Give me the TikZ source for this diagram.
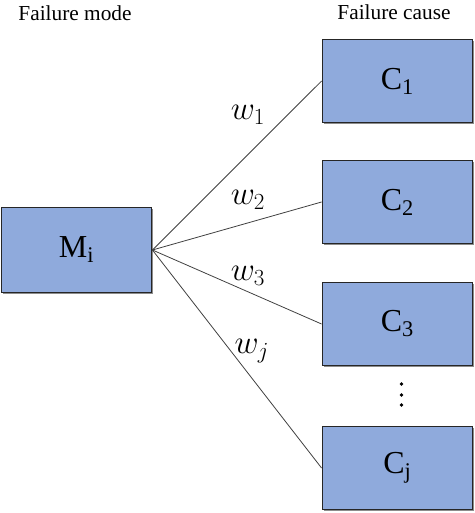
\documentclass[tikz,border=0pt]{standalone}
\usepackage{fontspec}
\setmainfont{Liberation Serif}
\newfontfamily\timesfont{Liberation Serif}
\usetikzlibrary{shadows}
\definecolor{boxblue}{RGB}{143,170,220}
\tikzset{
  box/.style={draw=black!85,line width=0.9pt,fill=boxblue,rectangle,
    minimum width=113pt,minimum height=62pt,inner sep=0pt,
    font=\timesfont\fontsize{24}{28}\selectfont,
    drop shadow={shadow xshift=1.2pt,shadow yshift=-1.2pt,fill=black!45,opacity=1}},
  head/.style={font=\timesfont\fontsize{16}{19}\selectfont},
  wlab/.style={font=\fontsize{25}{29}\selectfont},
  dot/.style={circle,fill=black,inner sep=0pt,minimum size=2.8pt}
}
\begin{document}
\begin{tikzpicture}[x=0.75pt,y=-0.75pt]
  \useasboundingbox (0,0) rectangle (474,513);
  % headers
  \node[head] (hm) at (75,13) {Failure mode};
  \node[head] (hc) at (394,12) {Failure cause};
  % boxes
  \node[box,minimum height=64pt] (M) at (76.5,250) {M\textsubscript{i}};
  \node[box] (C1) at (397.5,81) {C\textsubscript{1}};
  \node[box] (C2) at (397.5,202) {C\textsubscript{2}};
  \node[box] (C3) at (397.5,324) {C\textsubscript{3}};
  \node[box] (Cj) at (397.5,468) {C\textsubscript{j}};
  \foreach \y [count=\k] in {384,395,405}
    \node[dot] (d\k) at (401.5,\y) {};
  % weights
  \foreach \c in {C1,C2,C3,Cj}
    \draw[black!75,line width=0.6pt] (M.east) -- (\c.west);
  \node[wlab] (w1) at (248,115) {$w_1$};
  \node[wlab] (w2) at (248,200) {$w_2$};
  \node[wlab] (w3) at (248,276) {$w_3$};
  \node[wlab] (wj) at (252,351) {$w_j$};
\end{tikzpicture}
\end{document}
